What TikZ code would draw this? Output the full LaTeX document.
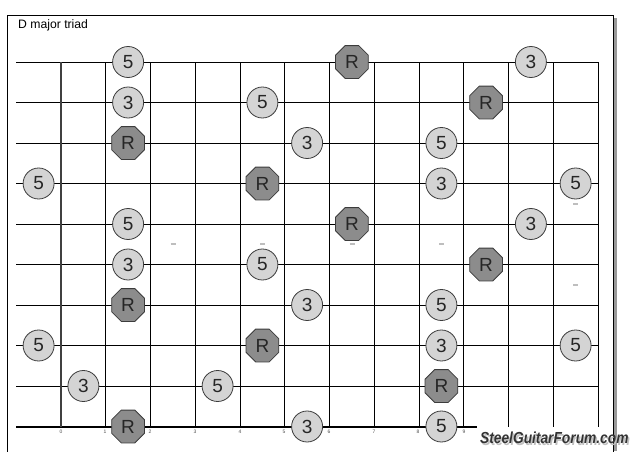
\documentclass[tikz,border=0pt]{standalone}
\usepackage{fontspec}
\setmainfont{Liberation Sans}
\usetikzlibrary{shapes.geometric}
\definecolor{notegray}{RGB}{212,212,212}
\definecolor{rootgray}{RGB}{140,140,140}
\definecolor{rimgray}{RGB}{60,60,60}
\definecolor{dotgray}{RGB}{190,190,190}
\begin{document}
\begin{tikzpicture}[x=1pt,y=1pt,yscale=-1,
  note/.style={circle,draw=rimgray,fill=notegray,line width=0.8pt,minimum size=31pt,inner sep=0pt,font=\fontsize{19}{19}\selectfont,text=black!85},
  root/.style={regular polygon,regular polygon sides=8,draw=rimgray,fill=rootgray,line width=0.8pt,minimum size=35.5pt,inner sep=0pt,font=\fontsize{19}{19}\selectfont,text=black!85},
  fretno/.style={font=\fontsize{5}{5}\selectfont,text=black!70,inner sep=0pt},
  marker/.style={dotgray,line width=1.2pt}]
\useasboundingbox (0,0) rectangle (633,451);

%Shape: Rectangle (frame)
\draw [black!40,line width=2.5pt] (615.5,18) -- (615.5,451) ;
\draw [line width=0.8pt] (7,460) -- (7,15) -- (613,15) -- (613,460) ;

% Text Node
\node [anchor=west,font=\fontsize{12.2}{12.2}\selectfont,inner sep=0pt] (title) at (18,25) {D major triad};

%Straight Lines (strings)
\draw [line width=0.8pt] (16,62) -- (598,62) ;
\draw [line width=0.8pt] (16,102.5) -- (598,102.5) ;
\draw [line width=0.8pt] (16,143) -- (598,143) ;
\draw [line width=0.8pt] (16,183.5) -- (598,183.5) ;
\draw [line width=0.8pt] (16,224) -- (598,224) ;
\draw [line width=0.8pt] (16,264.5) -- (598,264.5) ;
\draw [line width=0.8pt] (16,305) -- (598,305) ;
\draw [line width=0.8pt] (16,345.5) -- (598,345.5) ;
\draw [line width=0.8pt] (16,386) -- (598,386) ;
\draw [line width=2pt] (16,426.5) -- (477,426.5) ;

%Straight Lines (frets)
\draw [black!75,line width=2pt] (61,62) -- (61,426.5) ;
\draw [line width=0.8pt] (105.75,62) -- (105.75,426.5) ;
\draw [line width=0.8pt] (150.5,62) -- (150.5,426.5) ;
\draw [line width=0.8pt] (195.25,62) -- (195.25,426.5) ;
\draw [line width=0.8pt] (240,62) -- (240,426.5) ;
\draw [line width=0.8pt] (284.75,62) -- (284.75,426.5) ;
\draw [line width=0.8pt] (329.5,62) -- (329.5,426.5) ;
\draw [line width=0.8pt] (374.25,62) -- (374.25,426.5) ;
\draw [line width=0.8pt] (419,62) -- (419,426.5) ;
\draw [line width=0.8pt] (463.75,62) -- (463.75,426.5) ;
\draw [line width=0.8pt] (508.5,62) -- (508.5,426.5) ;
\draw [line width=0.8pt] (553.25,62) -- (553.25,426.5) ;
\draw [line width=0.8pt] (598,62) -- (598,426.5) ;

%Fret markers
\draw [marker] (170.5,244) -- (175.5,244) ;
\draw [marker] (260,244) -- (265,244) ;
\draw [marker] (349.5,244) -- (354.5,244) ;
\draw [marker] (439,244) -- (444,244) ;
\draw [marker] (573,204) -- (578,204) ;
\draw [marker] (573,285) -- (578,285) ;

% Fret numbers
\node [fretno] (f0) at (61,432) {0};
\node [fretno] (f1) at (105,432) {1};
\node [fretno] (f2) at (150,432) {2};
\node [fretno] (f3) at (195,432) {3};
\node [fretno] (f4) at (240,432) {4};
\node [fretno] (f5) at (284,432) {5};
\node [fretno] (f6) at (329,432) {6};
\node [fretno] (f7) at (374,432) {7};
\node [fretno] (f8) at (418,432) {8};
\node [fretno] (f9) at (464,432) {9};

% string 1
\node [note] (n1a) at (128.1,62) {5};
\node [root] (n1b) at (351.9,62) {R};
\node [note] (n1c) at (530.9,62) {3};
% string 2
\node [note] (n2a) at (128.1,102.5) {3};
\node [note] (n2b) at (262.4,102.5) {5};
\node [root] (n2c) at (486.1,102.5) {R};
% string 3
\node [root] (n3a) at (128.1,143) {R};
\node [note] (n3b) at (307.1,143) {3};
\node [note] (n3c) at (441.4,143) {5};
% string 4
\node [note] (n4a) at (38.6,183.5) {5};
\node [root] (n4b) at (262.4,183.5) {R};
\node [note] (n4c) at (441.4,183.5) {3};
\node [note] (n4d) at (575.6,183.5) {5};
% string 5
\node [note] (n5a) at (128.1,224) {5};
\node [root] (n5b) at (351.9,224) {R};
\node [note] (n5c) at (530.9,224) {3};
% string 6
\node [note] (n6a) at (128.1,264.5) {3};
\node [note] (n6b) at (262.4,264.5) {5};
\node [root] (n6c) at (486.1,264.5) {R};
% string 7
\node [root] (n7a) at (128.1,305) {R};
\node [note] (n7b) at (307.1,305) {3};
\node [note] (n7c) at (441.4,305) {5};
% string 8
\node [note] (n8a) at (38.6,345.5) {5};
\node [root] (n8b) at (262.4,345.5) {R};
\node [note] (n8c) at (441.4,345.5) {3};
\node [note] (n8d) at (575.6,345.5) {5};
% string 9
\node [note] (n9a) at (83.4,386) {3};
\node [note] (n9b) at (217.6,386) {5};
\node [root] (n9c) at (441.4,386) {R};
% string 10
\node [root] (n10a) at (128.1,426.5) {R};
\node [note] (n10b) at (307.1,426.5) {3};
\node [note] (n10c) at (441.4,426.5) {5};

% Watermark
\node [anchor=west,inner sep=0pt,xscale=0.86,text=black!25,font=\fontsize{16}{16}\selectfont\bfseries\itshape] (wmshadow) at (481.5,439.5) {SteelGuitarForum.com};
\node [anchor=west,inner sep=0pt,xscale=0.86,text=black!80,font=\fontsize{16}{16}\selectfont\bfseries\itshape] (wm) at (480,438) {SteelGuitarForum.com};

\end{tikzpicture}
\end{document}
